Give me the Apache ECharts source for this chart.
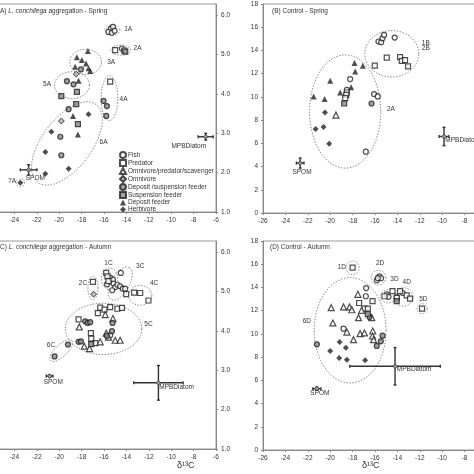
<!DOCTYPE html>
<html>
<head>
<meta charset="utf-8">
<script src="https://cdn.jsdelivr.net/npm/echarts@6/dist/echarts.min.js"></script>
<style>
  html, body { margin: 0; padding: 0; background: #fff; }
  #chart { width: 474px; height: 474px; }
</style>
</head>
<body>
<div id="chart"></div>
<script>
// feeding groups (legend order)
const categories = ['Fish', 'Predator', 'Omnivore/predator/scavenger', 'Omnivore',
  'Deposit /suspension feeder', 'Suspension feeder', 'Deposit feeder', 'Herbivore'];

// [δ13C, δ15N, group index]
const pointsA = [
  [-15.4, 5.65, 0], [-15.2, 5.70, 0], [-15.6, 5.57, 0], [-15.3, 5.55, 0], [-15.05, 5.60, 0],
  [-15.0, 5.11, 1], [-14.4, 5.15, 0], [-14.2, 5.10, 1], [-14.1, 5.07, 5],
  [-17.44, 5.09, 6], [-18.42, 4.93, 6], [-17.98, 4.86, 6], [-17.6, 4.77, 6], [-18.57, 4.69, 6],
  [-17.38, 4.65, 6], [-17.23, 4.58, 6], [-18.06, 4.62, 4], [-18.48, 4.50, 3],
  [-19.31, 4.32, 4], [-18.27, 4.33, 6], [-18.72, 4.24, 4], [-18.42, 4.05, 5], [-19.81, 3.94, 5],
  [-15.45, 4.31, 1], [-16.04, 3.82, 4], [-15.74, 3.69, 4], [-15.8, 3.44, 4],
  [-18.48, 3.74, 5], [-19.16, 3.61, 4], [-18.77, 3.44, 6], [-17.38, 3.48, 7], [-19.81, 3.31, 3],
  [-18.33, 3.23, 5], [-20.7, 3.04, 7], [-19.9, 2.91, 4], [-18.33, 2.97, 6], [-21.24, 2.52, 7],
  [-19.81, 2.44, 4], [-19.16, 2.10, 7], [-21.24, 1.97, 7],
  [-23.47, 1.74, 7]
];
const pointsB = [
  [-15.69, 14.77, 0], [-15.45, 14.71, 0], [-15.33, 15.06, 0], [-15.19, 15.34, 0], [-14.24, 15.11, 0],
  [-14.95, 13.39, 1], [-13.76, 13.42, 1], [-13.61, 13.11, 1], [-13.32, 13.17, 1], [-13.05, 12.62, 1], [-16.02, 12.70, 1],
  [-17.83, 12.91, 6], [-17.77, 12.19, 6], [-17.09, 12.68, 6], [-20.0, 11.39, 6], [-18.13, 10.84, 6],
  [-19.11, 10.38, 6], [-21.48, 10.03, 6], [-20.5, 9.81, 6],
  [-19.49, 8.43, 2],
  [-18.22, 11.53, 0], [-18.51, 10.61, 0], [-16.08, 10.24, 0], [-15.75, 10.04, 0], [-16.82, 5.28, 0],
  [-16.31, 9.43, 4],
  [-18.51, 10.38, 1], [-18.57, 10.18, 1], [-18.66, 9.90, 1], [-18.75, 9.43, 5],
  [-20.47, 8.66, 7], [-21.3, 7.23, 7], [-20.59, 7.40, 7], [-20.09, 5.96, 7]
];
const pointsC = [
  [-15.8, 5.47, 1], [-15.69, 5.38, 1], [-15.45, 5.35, 0], [-15.6, 5.26, 1], [-15.2, 5.30, 0], [-15.74, 5.18, 0], [-15.15, 5.20, 0],
  [-14.5, 5.47, 0], [-15.0, 5.11, 0], [-14.8, 5.17, 0], [-14.56, 5.13, 0], [-14.32, 5.07, 0], [-14.11, 5.07, 0], [-15.27, 5.03, 0], [-14.02, 4.93, 1],
  [-16.99, 5.24, 1], [-16.93, 4.93, 3],
  [-13.31, 4.97, 1], [-12.77, 4.96, 1], [-12.03, 4.77, 1],
  [-16.34, 4.59, 1], [-16.55, 4.45, 1], [-15.96, 4.54, 1], [-15.45, 4.60, 1], [-14.8, 4.56, 1], [-14.4, 4.58, 1], [-18.27, 4.29, 1],
  [-15.89, 4.41, 2], [-17.68, 4.24, 4], [-17.47, 4.20, 4], [-17.23, 4.22, 4], [-18.21, 4.10, 2], [-15.2, 4.31, 2], [-15.24, 4.20, 4],
  [-17.17, 3.94, 1], [-17.14, 3.80, 1], [-17.14, 3.66, 5], [-16.78, 3.69, 1],
  [-15.29, 3.99, 4], [-15.45, 3.89, 0], [-15.74, 3.87, 4], [-18.27, 3.72, 4], [-18.06, 3.73, 4],
  [-15.8, 3.94, 2], [-15.6, 3.84, 2], [-16.34, 3.72, 2], [-15.0, 3.76, 2], [-14.56, 3.76, 2], [-17.76, 3.61, 2], [-17.29, 3.55, 2],
  [-19.22, 3.65, 4], [-20.41, 3.35, 4]
];
const pointsD = [
  [-18.0, 15.70, 1],
  [-15.84, 14.61, 0], [-15.6, 14.96, 0], [-15.46, 14.79, 0], [-15.75, 14.80, 0],
  [-15.15, 13.24, 1], [-14.95, 13.41, 0], [-14.44, 13.69, 1], [-14.8, 13.19, 0],
  [-14.06, 13.09, 1], [-14.06, 12.83, 5], [-13.76, 13.69, 1], [-13.52, 13.52, 0], [-13.17, 13.32, 1], [-12.87, 13.03, 1], [-14.06, 13.20, 0],
  [-11.8, 12.17, 1],
  [-16.79, 13.95, 0], [-16.82, 13.24, 0], [-18.81, 10.45, 0], [-18.51, 10.16, 2], [-21.19, 9.10, 4],
  [-17.42, 12.66, 1], [-16.94, 12.17, 1], [-16.64, 12.17, 1], [-16.22, 12.83, 1], [-16.64, 11.69, 5], [-16.49, 11.46, 4],
  [-17.53, 13.41, 2], [-19.91, 12.26, 2], [-18.81, 12.32, 2], [-18.27, 12.32, 2], [-18.07, 12.08, 2], [-17.2, 12.03, 2],
  [-17.47, 11.40, 2], [-16.29, 11.40, 2], [-19.76, 10.94, 2], [-17.92, 9.50, 2], [-17.33, 10.02, 2], [-16.94, 10.08, 2],
  [-16.2, 10.25, 2], [-16.22, 9.82, 2], [-16.13, 9.50, 2],
  [-15.33, 9.85, 4], [-15.48, 9.36, 4], [-15.84, 8.96, 4],
  [-20.0, 8.53, 7], [-19.16, 9.30, 7], [-18.6, 8.81, 7], [-19.2, 7.92, 7], [-18.51, 7.78, 7], [-16.88, 7.72, 7]
];

// cluster outlines: [centre x, centre y, half width (x units), half height (y units), tilt deg]
const ellipsesA = [
  [-15.25, 5.62, 0.67, 0.13, 0], [-14.5, 5.11, 0.89, 0.13, 0], [-17.64, 4.81, 1.41, 0.32, 0],
  [-18.86, 4.22, 1.56, 0.34, 0], [-15.51, 3.89, 0.74, 0.57, 0], [-19.31, 2.74, 4.35, 0.63, 53],
  [-23.47, 1.74, 0.36, 0.1, 0]
];
const ellipsesB = [[-14.5, 13.71, 2.41, 2.0, 0], [-18.66, 8.74, 3.18, 4.88, 0]];
const ellipsesC = [
  [-15.5, 5.32, 0.74, 0.27, 0], [-14.56, 5.20, 1.64, 0.23, 60], [-16.99, 5.09, 0.45, 0.30, 0],
  [-12.77, 4.90, 1.04, 0.25, 0], [-16.04, 4.05, 3.42, 0.65, 0], [-19.81, 3.5, 1.31, 0.15, 43]
];
const ellipsesD = [
  [-18.0, 15.70, 0.6, 0.58, 0], [-15.69, 14.84, 0.65, 0.63, 0], [-14.8, 13.24, 0.74, 0.57, 0],
  [-13.46, 13.18, 0.83, 0.8, 0], [-11.8, 12.17, 0.45, 0.43, 0], [-18.22, 10.31, 3.21, 4.54, 0]
];

// food sources: [x, y, x error, y error]
const sourcesA = [[-22.73, 2.07, 0.74, 0.13], [-6.92, 2.91, 0.67, 0.085]];
const sourcesB = [[-22.68, 4.30, 0.34, 0.43], [-9.84, 6.59, 0.43, 0.79]];
const sourcesC = [[-20.86, 2.85, 0.3, 0.03], [-11.14, 2.68, 2.2, 0.44]];
const sourcesD = [[-21.19, 5.28, 0.36, 0.14], [-14.21, 7.21, 4.04, 1.61]];

// text labels: [text, x, y]
const labelsA = [['1A', -13.84, 5.64], ['2A', -13.0, 5.17], ['3A', -15.36, 4.80], ['5A', -21.09, 4.25],
  ['4A', -14.26, 3.86], ['6A', -16.04, 2.77], ['7A', -24.2, 1.77], ['SPOM', -22.13, 1.86], ['MPBDiatom', -8.43, 2.68]];
const labelsB = [['1B', -11.47, 14.6], ['2B', -11.47, 14.2], ['2A', -14.58, 8.95], ['SPOM', -22.52, 3.49], ['MPBDiatom', -8.17, 6.25]];
const labelsC = [['1C', -15.6, 5.72], ['3C', -12.77, 5.64], ['2C', -17.88, 5.2], ['4C', -11.53, 5.21],
  ['5C', -12.03, 4.16], ['6C', -20.73, 3.63], ['SPOM', -20.53, 2.70], ['MPBDiatom', -9.52, 2.57]];
const labelsD = [['1D', -18.96, 15.76], ['2D', -15.55, 16.1], ['3D', -14.26, 14.67], ['4D', -13.17, 14.47],
  ['5D', -11.68, 12.95], ['6D', -22.08, 11.08], ['SPOM', -20.92, 4.85], ['MPBDiatom', -12.5, 6.92]];

const FONT = 'Liberation Sans, Arial, sans-serif';
const INK = '#222';

const symbolStyles = [
  { symbol: 'circle', size: 5, itemStyle: { color: '#fff', borderColor: INK, borderWidth: 1.2 } },
  { symbol: 'rect', size: 5, itemStyle: { color: '#fff', borderColor: INK, borderWidth: 1.2 } },
  { symbol: 'triangle', size: 6, itemStyle: { color: '#fff', borderColor: INK, borderWidth: 1.2 } },
  { symbol: 'diamond', size: 6, itemStyle: { color: '#aaa', borderColor: INK, borderWidth: 1 } },
  { symbol: 'circle', size: 5, itemStyle: { color: '#888', borderColor: INK, borderWidth: 1.2 } },
  { symbol: 'rect', size: 5, itemStyle: { color: '#888', borderColor: INK, borderWidth: 1.2 } },
  { symbol: 'triangle', size: 6, itemStyle: { color: INK } },
  { symbol: 'diamond', size: 6, itemStyle: { color: INK } }
];

const panels = [
  { points: pointsA, ellipses: ellipsesA, sources: sourcesA, labels: labelsA },
  { points: pointsB, ellipses: ellipsesB, sources: sourcesB, labels: labelsB },
  { points: pointsC, ellipses: ellipsesC, sources: sourcesC, labels: labelsC },
  { points: pointsD, ellipses: ellipsesD, sources: sourcesD, labels: labelsD }
];

function ellipseItem(params, api) {
  const c = api.coord([api.value(0), api.value(1)]);
  const s = api.size([api.value(2), api.value(3)]);
  const a = api.value(4) * Math.PI / 180;
  const pts = [];
  for (let i = 0; i < 72; i++) {
    const t = i / 72 * Math.PI * 2;
    const x = s[0] * Math.cos(t), y = s[1] * Math.sin(t);
    pts.push([c[0] + x * Math.cos(a) - y * Math.sin(a), c[1] - (x * Math.sin(a) + y * Math.cos(a))]);
  }
  return {
    type: 'polygon', shape: { points: pts },
    style: { fill: 'none', stroke: '#888', lineWidth: 1, lineDash: [1.5, 1.5] }
  };
}

function sourceItem(params, api) {
  const x = api.value(0), y = api.value(1), ex = api.value(2), ey = api.value(3);
  const c = api.coord([x, y]);
  const l = api.coord([x - ex, y])[0], r = api.coord([x + ex, y])[0];
  const t = api.coord([x, y + ey])[1], b = api.coord([x, y - ey])[1];
  const st = { stroke: '#333', lineWidth: 1.4 };
  const cap = 1.5, d = 2.3;
  return {
    type: 'group', children: [
      { type: 'line', shape: { x1: l, y1: c[1], x2: r, y2: c[1] }, style: st },
      { type: 'line', shape: { x1: c[0], y1: t, x2: c[0], y2: b }, style: st },
      { type: 'line', shape: { x1: l, y1: c[1] - cap, x2: l, y2: c[1] + cap }, style: st },
      { type: 'line', shape: { x1: r, y1: c[1] - cap, x2: r, y2: c[1] + cap }, style: st },
      { type: 'line', shape: { x1: c[0] - cap, y1: t, x2: c[0] + cap, y2: t }, style: st },
      { type: 'line', shape: { x1: c[0] - cap, y1: b, x2: c[0] + cap, y2: b }, style: st },
      { type: 'polygon', shape: { points: [[c[0], c[1] - d], [c[0] + d, c[1]], [c[0], c[1] + d], [c[0] - d, c[1]]] },
        style: { fill: '#999', stroke: '#333', lineWidth: 0.8 } }
    ]
  };
}

function labelRenderer(labels) {
  return function (params, api) {
    const p = api.coord([api.value(0), api.value(1)]);
    return {
      type: 'text', x: p[0], y: p[1],
      style: { text: labels[params.dataIndex][0], fontSize: 6.5, fontFamily: FONT, fill: '#333',
        align: 'center', verticalAlign: 'middle' }
    };
  };
}

const grids = [
  { left: -8, top: 4, width: 224, height: 208 },
  { left: 263, top: 4, width: 224, height: 209 },
  { left: -8, top: 241, width: 224, height: 208 },
  { left: 263, top: 241, width: 224, height: 209 }
].map(g => Object.assign(g, {
  show: true, borderColor: '#999', borderWidth: 1, containLabel: false, outerBoundsMode: 'none'
}));

const axisText = { fontSize: 6.5, color: '#333', fontFamily: FONT };

const xAxes = grids.map((g, i) => ({
  gridIndex: i, type: 'value', min: -26, max: -6, interval: 2,
  axisLine: { lineStyle: { color: '#888' } },
  axisTick: { length: 2, lineStyle: { color: '#888' } },
  axisLabel: Object.assign({ margin: 5 }, axisText),
  splitLine: { show: false }
}));

const yAxes = grids.map((g, i) => {
  const agg = i === 0 || i === 2;
  return {
    gridIndex: i, type: 'value', position: agg ? 'right' : 'left',
    min: agg ? 1 : 0, max: agg ? 6.28 : 18, interval: agg ? 1 : 2,
    axisLine: { show: true, lineStyle: { color: '#888' } },
    axisTick: { show: true, length: 2, lineStyle: { color: '#888' } },
    axisLabel: Object.assign({
      margin: 5, showMaxLabel: agg ? false : true,
      formatter: v => agg ? (Number.isInteger(Math.round(v * 100) / 100) ? v.toFixed(1) : '') : String(v)
    }, axisText),
    splitLine: { show: false }
  };
});

const series = [];
panels.forEach((p, i) => {
  series.push({
    type: 'custom', xAxisIndex: i, yAxisIndex: i, silent: true, z: 1,
    encode: { x: 0, y: 1 }, data: p.ellipses, renderItem: ellipseItem
  });
  series.push({
    type: 'custom', xAxisIndex: i, yAxisIndex: i, silent: true, z: 2,
    encode: { x: 0, y: 1 }, data: p.sources, renderItem: sourceItem
  });
  series.push({
    type: 'custom', xAxisIndex: i, yAxisIndex: i, silent: true, z: 2,
    encode: { x: 0, y: 1 }, data: p.labels.map(l => [l[1], l[2]]), renderItem: labelRenderer(p.labels)
  });
  categories.forEach((name, c) => {
    const data = p.points.filter(q => q[2] === c).map(q => [q[0], q[1]]);
    if (!data.length) return;
    const st = symbolStyles[c];
    series.push({
      name: name, type: 'scatter', xAxisIndex: i, yAxisIndex: i, z: 3,
      symbol: st.symbol, symbolSize: st.size, itemStyle: st.itemStyle,
      data: data
    });
  });
});

const titleRich = {
  n: { fontSize: 6.5, fontFamily: FONT, fill: '#333' },
  i: { fontSize: 6.5, fontFamily: FONT, fill: '#333', fontStyle: 'italic' }
};

const chart = echarts.init(document.getElementById('chart'), null, { renderer: 'canvas' });
chart.setOption({
  animation: false,
  backgroundColor: '#fff',
  grid: grids,
  xAxis: xAxes,
  yAxis: yAxes,
  legend: {
    data: categories, orient: 'vertical', left: 119, top: 151, padding: 0,
    itemWidth: 6, itemHeight: 6, itemGap: 0, outerBoundsMode: 'none',
    textStyle: { fontSize: 6.5, color: '#333', fontFamily: FONT, lineHeight: 6.5, padding: [0, 0, 0, -3] },
    selectedMode: false
  },
  graphic: [
    { type: 'text', left: 0, top: 8, style: { text: '{n|A) }{i|L. conchilega}{n| aggregation - Spring}', rich: titleRich } },
    { type: 'text', left: 272, top: 8, style: { text: '{n|(B) Control - Spring}', rich: titleRich } },
    { type: 'text', left: 0, top: 244, style: { text: '{n|C) }{i|L. conchilega}{n| aggregation - Autumn}', rich: titleRich } },
    { type: 'text', left: 270, top: 244, style: { text: '{n|(D) Control - Autumn}', rich: titleRich } },
    { type: 'text', left: 177, top: 461, style: { text: 'δ¹³C', fontSize: 9, fontFamily: FONT, fill: '#333' } },
    { type: 'text', left: 362, top: 461, style: { text: 'δ¹³C', fontSize: 9, fontFamily: FONT, fill: '#333' } }
  ],
  series: series
});
</script>
</body>
</html>
